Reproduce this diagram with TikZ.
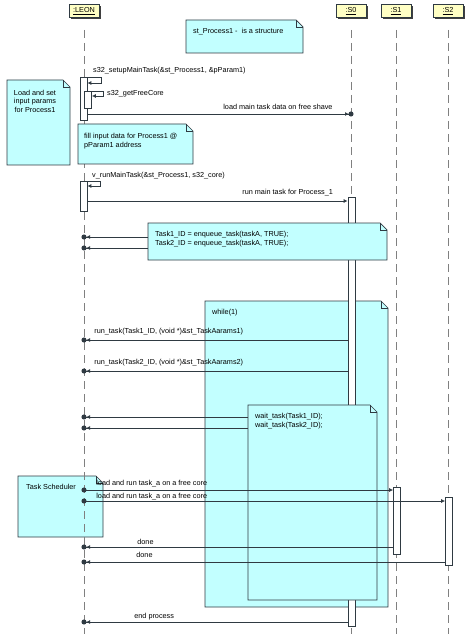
\documentclass[tikz,border=0pt]{standalone}
\usepackage{fontspec}
\setmainfont{Liberation Sans}
\usetikzlibrary{arrows.meta,calc,shadows}
\definecolor{notecyan}{HTML}{C2FFFF}
\definecolor{headyellow}{HTML}{FFFFC4}
\definecolor{edge}{HTML}{2F3A42}

% note with a folded corner: name, north west, south east
\newcommand{\umlnote}[3]{%
  \coordinate (#1-nw) at #2;
  \coordinate (#1-se) at #3;
  \filldraw[note] (#1-nw) -- ($(#1-se |- #1-nw)+(-7,0)$) -- ($(#1-se |- #1-nw)+(0,7)$)
    -- (#1-se) -- (#1-nw |- #1-se) -- cycle;
  \draw[note, fill=none] ($(#1-se |- #1-nw)+(-7,0)$) -- ++(0,7) -- ++(7,0);
}

\begin{document}
\begin{tikzpicture}[%
x=1bp, y=-1bp, font=\fontsize{7.3}{8.6}\selectfont,
head/.style={draw=edge, fill=headyellow, minimum width=30bp, minimum height=13bp, inner sep=0pt,
  drop shadow={shadow xshift=2bp, shadow yshift=-2bp, fill=black!75, opacity=1}},
life/.style={draw=black!50, line width=1bp, dash pattern=on 8bp off 5bp},
act/.style={draw=edge, fill=white, line width=0.7bp, minimum width=7bp, inner sep=0pt, anchor=north},
note/.style={draw=edge, fill=notecyan, line width=0.7bp},
msg/.style={draw=edge, line width=0.75bp},
call/.style={msg, -{Latex[length=4bp,width=4bp]}},
found/.style={msg, -{Latex[length=3.5bp,width=4bp] Circle[length=5bp]}, shorten >=-2.5bp},
start/.style={msg, {Circle[length=5bp]}-{Latex[length=4bp,width=4bp]}, shorten <=-2.5bp},
lbl/.style={inner sep=0pt, anchor=west}]%styles for heads, lifelines, bars, notes and messages
\useasboundingbox (0,0) rectangle (474,634);
% heads
\node[head] (leon) at (84,11) {\underline{:LEON}};
\node[head] (s0) at (351,11) {\underline{:S0}};
\node[head] (s1) at (396,11) {\underline{:S1}};
\node[head] (s2) at (448,11) {\underline{:S2}};
% notes that stay clear of the lifelines
\umlnote{stnote}{(186,20)}{(303,53)}
\node[lbl] (stnote-t) at (193,32) {st\_Process1 -\ \ is a structure};
\umlnote{setnote}{(7,80)}{(70,165)}
\node[align=center, inner sep=0pt] (setnote-t) at (35,101) {Load and set\\input params\\for Process1};
\umlnote{whilenote}{(205,301)}{(388,607)}
\node[lbl] (whilenote-t) at (212,313) {while(1)};
% lifelines
\draw[life] (s0 |- 0,30) -- (s0 |- 0,634);
\draw[life] (s1 |- 0,30) -- (s1 |- 0,634);
\draw[life] (s2 |- 0,30) -- (s2 |- 0,634);
\umlnote{schednote}{(18,476)}{(103,537)}
\node[lbl] (schednote-t) at (26,487) {Task Scheduler};
\draw[life] (leon |- 0,30) -- (leon |- 0,634);
% LEON activations and self calls
\node[act, minimum height=43bp] (a1) at (83.5,77) {};
\node[act, minimum height=17bp] (a2) at (88,91) {};
\draw[call] (a1.north east) -- ++(14,0) -- ++(0,6) -- ++(-14,0);
\node[lbl] (setup) at (93,71) {s32\_setupMainTask(\&st\_Process1, \&pParam1)};
\draw[call] (a2.north east) -- ++(12,0) -- ++(0,5) -- ++(-12,0);
\node[lbl] (getcore) at (107,94) {s32\_getFreeCore};
\draw[found] (a1.east |- 0,114) -- (s0 |- 0,114)
  node[lbl] (loadmain) at (223,107) {load main task data on free shave};
\umlnote{fillnote}{(78,124)}{(193,164)}
\node[lbl, align=left] (fillnote-t) at (84,141) {fill input data for Process1 @\\pParam1 address};
\node[act, minimum height=30bp] (a3) at (83.5,181) {};
\draw[call] (a3.north east) -- ++(13,0) -- ++(0,5) -- ++(-13,0);
\node[lbl] (runmain) at (92,176) {v\_runMainTask(\&st\_Process1, s32\_core)};
% S0 activation
\node[act, minimum height=429bp] (b0) at (351.5,197) {};
\draw[call] (a3.east |- 0,201) -- (b0.west |- 0,201)
  node[lbl] (runmain-l) at (242,193) {run main task for Process\_1};
% enqueue note
\umlnote{enqnote}{(148,223)}{(387,260)}
\node[lbl, align=left] (enqnote-t) at (155,239) {Task1\_ID = enqueue\_task(taskA, TRUE);\\Task2\_ID = enqueue\_task(taskA, TRUE);};
\draw[found] (enqnote-nw |- 0,237) -- (leon |- 0,237);
\draw[found] (enqnote-nw |- 0,248) -- (leon |- 0,248);
% run tasks
\draw[found] (b0.west |- 0,340) -- (leon |- 0,340)
  node[lbl] (run1) at (94,332) {run\_task(Task1\_ID, (void *)\&st\_TaskAarams1)};
\draw[found] (b0.west |- 0,371) -- (leon |- 0,371)
  node[lbl] (run2) at (94,363) {run\_task(Task2\_ID, (void *)\&st\_TaskAarams2)};
% wait note
\umlnote{waitnote}{(248,405)}{(377,600)}
\node[lbl, align=left] (waitnote-t) at (255,421) {wait\_task(Task1\_ID);\\wait\_task(Task2\_ID);};
\draw[found] (waitnote-nw |- 0,417) -- (leon |- 0,417);
\draw[found] (waitnote-nw |- 0,428) -- (leon |- 0,428);
% slave cores
\node[act, minimum height=67bp] (b1) at (397,487) {};
\node[act, minimum height=68bp] (b2) at (449,497) {};
\draw[start] (leon |- 0,490) -- (b1.west |- 0,490)
  node[lbl] (load1) at (96,484) {load and run task\_a on a free core};
\draw[start] (leon |- 0,501) -- (b2.west |- 0,501)
  node[lbl] (load2) at (96,497) {load and run task\_a on a free core};
\draw[found] (b1.west |- 0,547) -- (leon |- 0,547)
  node[lbl] (done1) at (137,542) {done};
\draw[found] (b2.west |- 0,562) -- (leon |- 0,562)
  node[lbl] (done2) at (136,555) {done};
\draw[found] (b0.west |- 0,622) -- (leon |- 0,622)
  node[lbl] (endp) at (134,617) {end process};
\end{tikzpicture}
\end{document}
